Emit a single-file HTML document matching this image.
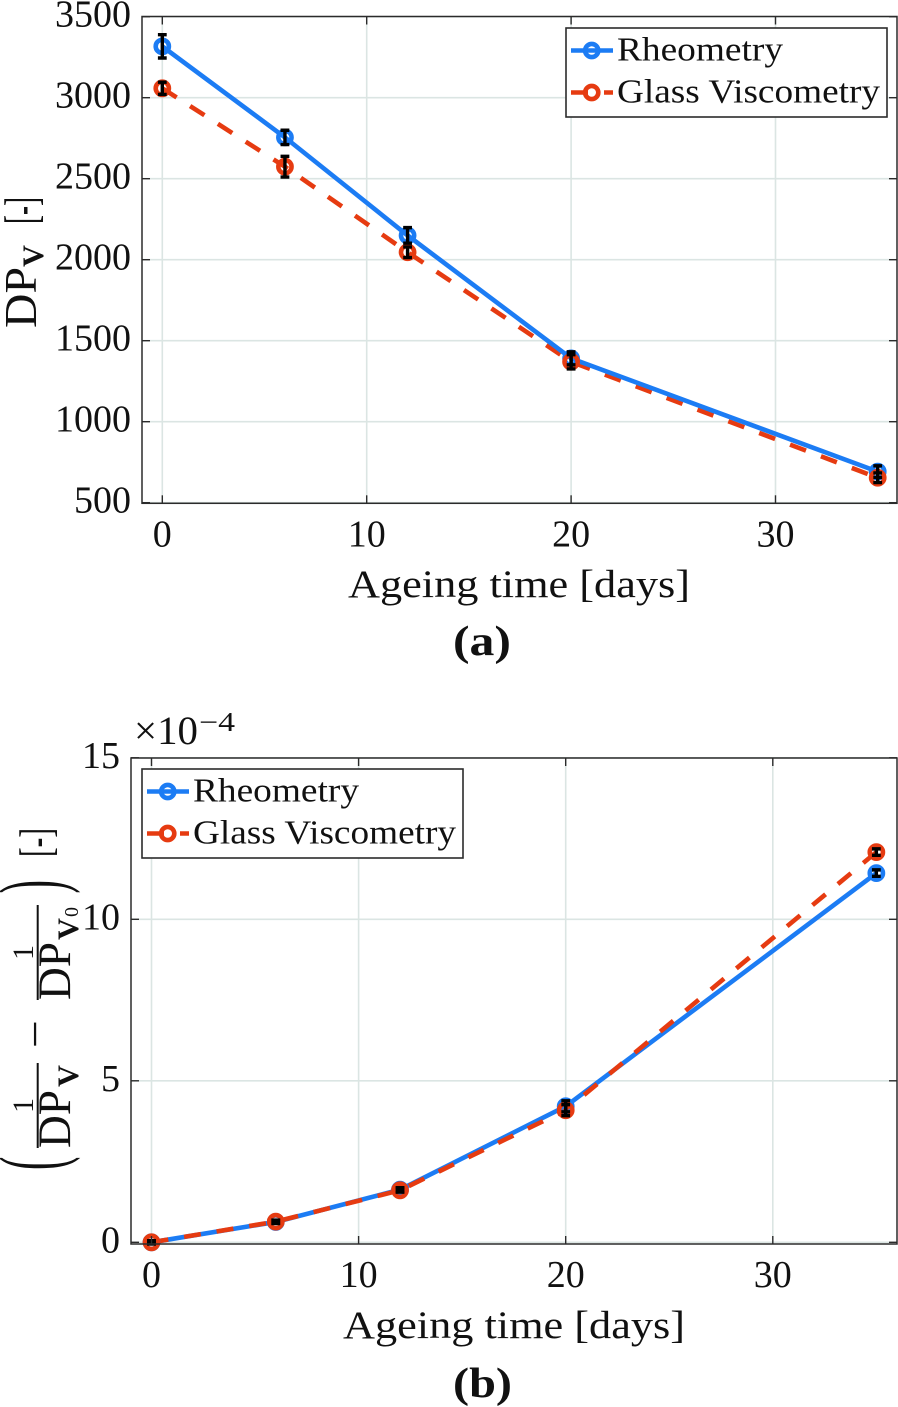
<!DOCTYPE html>
<html lang="en">
<head>
<meta charset="utf-8">
<title>Ageing time charts</title>
<style>
html,body{margin:0;padding:0;background:#fff;}
svg{display:block;}
text{font-family:"Liberation Serif","DejaVu Serif",serif;fill:#111;}
.tick{font-size:38px;}
.xl{font-size:39px;}
.leg{font-size:34px;}
.cap{font-size:42px;font-weight:bold;}
</style>
</head>
<body>
<svg id="figure" xmlns="http://www.w3.org/2000/svg" width="898" height="1407" viewBox="0 0 898 1407">
  <rect width="898" height="1407" fill="#fff"/>
  <g id="chartA"></g>
  <g id="chartB"></g>

  <text class="xl" x="348" y="597" textLength="342" lengthAdjust="spacingAndGlyphs">Ageing time [days]</text>
  <text class="cap" x="453" y="655" textLength="58" lengthAdjust="spacingAndGlyphs">(a)</text>
  <text class="xl" x="343" y="1338" textLength="342" lengthAdjust="spacingAndGlyphs">Ageing time [days]</text>
  <text class="cap" x="453" y="1397" textLength="59" lengthAdjust="spacingAndGlyphs">(b)</text>

  <g>
    <text transform="translate(36,328) rotate(-90)" font-size="45" textLength="61" lengthAdjust="spacingAndGlyphs">DP</text>
    <text transform="translate(43,267) rotate(-90)" font-size="30" font-weight="bold" textLength="22" lengthAdjust="spacingAndGlyphs">V</text>
    <text transform="translate(37,224) rotate(-90)" font-size="47" textLength="27" lengthAdjust="spacingAndGlyphs">[-]</text>
  </g>

  <g>
    <text transform="translate(61,1170) rotate(-90) scale(0.45,1)" font-size="90">(</text>
    <text transform="translate(33,1113) rotate(-90)" font-size="30">1</text>
    <line x1="37.7" y1="1148" x2="37.7" y2="1063" stroke="#111" stroke-width="2"/>
    <text transform="translate(70,1148) rotate(-90)" font-size="47" textLength="58" lengthAdjust="spacingAndGlyphs">DP</text>
    <text transform="translate(78,1087) rotate(-90)" font-size="30" font-weight="bold" textLength="22" lengthAdjust="spacingAndGlyphs">V</text>
    <text transform="translate(50,1048) rotate(-90)" font-size="45" textLength="28" lengthAdjust="spacingAndGlyphs">−</text>
    <text transform="translate(33,960) rotate(-90)" font-size="30">1</text>
    <line x1="37.7" y1="1000" x2="37.7" y2="905" stroke="#111" stroke-width="2"/>
    <text transform="translate(70,1000) rotate(-90)" font-size="47" textLength="58" lengthAdjust="spacingAndGlyphs">DP</text>
    <text transform="translate(78,940) rotate(-90)" font-size="30" font-weight="bold" textLength="22" lengthAdjust="spacingAndGlyphs">V</text>
    <text transform="translate(78,917) rotate(-90)" font-size="20">0</text>
    <text transform="translate(61,880) rotate(-90) scale(0.45,1)" font-size="90" text-anchor="end">)</text>
    <text transform="translate(51,857) rotate(-90)" font-size="46" textLength="29" lengthAdjust="spacingAndGlyphs">[-]</text>
  </g>

  <g>
    <text x="134" y="744" font-size="40" textLength="64" lengthAdjust="spacingAndGlyphs">×10</text>
    <text x="199" y="731" font-size="27" textLength="36" lengthAdjust="spacingAndGlyphs">−4</text>
  </g>
</svg>
<script>
// Shared values
const days = [0, 6, 12, 20, 35];
const xTickValues = [0, 10, 20, 30];

// Chart (a): viscometric degree of polymerisation
const yTicksA = [500, 1000, 1500, 2000, 2500, 3000, 3500];
const rheometryA = [3317, 2755, 2150, 1391, 692];
const rheometryErrA = [72, 44, 48, 40, 36];
const glassA = [3058, 2574, 2046, 1370, 654];
const glassErrA = [38, 64, 33, 44, 30];

// Chart (b): reciprocal difference, units of 1e-4
const yTicksB = [0, 5, 10, 15];
const rheometryB = [0, 0.63, 1.63, 4.21, 11.43];
const rheometryErrB = [0.05, 0.05, 0.06, 0.17, 0.10];
const glassB = [0, 0.64, 1.61, 4.09, 12.08];
const glassErrB = [0.05, 0.05, 0.06, 0.17, 0.10];

// Legend and series labels
const seriesNames = ['Rheometry', 'Glass Viscometry'];

const BLUE = '#1c7cf4';
const RED = '#e63b11';
const NS = 'http://www.w3.org/2000/svg';

function make(parent, tag, attrs, text) {
  const el = document.createElementNS(NS, tag);
  for (const k in attrs) el.setAttribute(k, attrs[k]);
  if (text !== undefined) el.textContent = text;
  parent.appendChild(el);
  return el;
}

function linePoints(xs, ys, xFn, yFn) {
  return xs.map((v, i) => xFn(v).toFixed(2) + ',' + yFn(ys[i]).toFixed(2)).join(' ');
}

function drawChart(root, box, xFn, yFn, yTicks, series, legendDx, legendDy) {
  // grid
  xTickValues.forEach(v => {
    const g = make(root, 'line', {x1: xFn(v), x2: xFn(v), y1: box.top, y2: box.bottom, stroke: '#dbe5e3', 'stroke-width': 1.6});
    
    
  });
  yTicks.forEach(v => {
    const g = make(root, 'line', {x1: box.left, x2: box.right, y1: yFn(v), y2: yFn(v), stroke: '#dbe5e3', 'stroke-width': 1.6});
    
    
  });

  // lines (order per chart)
  series.forEach(s => {
    const attrs = {points: linePoints(days, s.values, xFn, yFn), fill: 'none', stroke: s.color, 'stroke-width': 4.6};
    if (s.dashed) attrs['stroke-dasharray'] = '17 16';
    const l = make(root, 'polyline', attrs);
    
    
  });

  // markers: rheometry first, glass on top
  series.slice().sort((a, b) => (a.dashed ? 1 : 0) - (b.dashed ? 1 : 0)).forEach(s => {
    days.forEach((d, i) => {
      const c = make(root, 'circle', {cx: xFn(d), cy: yFn(s.values[i]), r: 6.6, fill: 'none', stroke: s.color, 'stroke-width': 4.6});
      
      
    });
  });

  // error bars
  series.forEach(s => {
    days.forEach((d, i) => {
      const x = xFn(d);
      const y1 = yFn(s.values[i] - s.errors[i]);
      const y2 = yFn(s.values[i] + s.errors[i]);
      const e = make(root, 'path', {
        d: 'M' + x + ' ' + y1 + 'V' + y2 + 'M' + (x - 4.4) + ' ' + y1 + 'H' + (x + 4.4) + 'M' + (x - 4.4) + ' ' + y2 + 'H' + (x + 4.4),
        fill: 'none', stroke: '#000', 'stroke-width': 3.4
      });
      
      
    });
  });

  // axes box
  const frame = make(root, 'rect', {x: box.left, y: box.top, width: box.right - box.left, height: box.bottom - box.top, fill: 'none', stroke: '#2b2b2b', 'stroke-width': 1.5});
  
  

  // ticks and labels
  xTickValues.forEach(v => {
    const x = xFn(v);
    const t1 = make(root, 'line', {x1: x, x2: x, y1: box.bottom, y2: box.bottom - 8, stroke: '#2b2b2b', 'stroke-width': 1.4});
    
    
    const t2 = make(root, 'line', {x1: x, x2: x, y1: box.top, y2: box.top + 8, stroke: '#2b2b2b', 'stroke-width': 1.4});
    
    
    const lab = make(root, 'text', {x: x, y: box.bottom + 43, 'text-anchor': 'middle', class: 'tick'}, String(v));
    
    
  });
  yTicks.forEach(v => {
    const y = yFn(v);
    const t1 = make(root, 'line', {x1: box.left, x2: box.left + 8, y1: y, y2: y, stroke: '#2b2b2b', 'stroke-width': 1.4});
    
    
    const t2 = make(root, 'line', {x1: box.right, x2: box.right - 8, y1: y, y2: y, stroke: '#2b2b2b', 'stroke-width': 1.4});
    
    
    const lab = make(root, 'text', {x: box.left - 11, y: y + 10, 'text-anchor': 'end', class: 'tick'}, String(v));
    
    
  });

  // legend
  const legend = make(root, 'g', {transform: 'translate(' + legendDx + ',' + legendDy + ')'});
  
  
  const bg = make(legend, 'rect', {x: 566, y: 28, width: 321, height: 89, fill: '#fff', stroke: '#2b2b2b', 'stroke-width': 1.6});
  
  
  seriesNames.forEach((name, i) => {
    const rowY = i === 0 ? 50.5 : 92.5;
    const color = i === 0 ? BLUE : RED;
    const attrs = {x1: 571, x2: 613, y1: rowY, y2: rowY, stroke: color, 'stroke-width': 4.6};
    if (i === 1) attrs['stroke-dasharray'] = '17 16';
    const sw = make(legend, 'line', attrs);
    
    
    const mk = make(legend, 'circle', {cx: 591.7, cy: rowY, r: 6.6, fill: 'none', stroke: color, 'stroke-width': 4.6});
    
    
    const lab = make(legend, 'text', {x: 617, y: rowY + 10, class: 'leg', textLength: i === 0 ? 166 : 263, lengthAdjust: 'spacingAndGlyphs'}, name);
    
    
  });
}

// Axis functions
const xA = v => 162.3 + 20.44 * v;
const yA = v => 502.7 - (v - 500) * 0.162;
const xB = v => 151.5 + 20.71 * v;
const yB = v => 1242.3 - v * 32.3;

drawChart(document.getElementById('chartA'),
  {left: 142, right: 897, top: 16.5, bottom: 503.3}, xA, yA, yTicksA,
  [
    {values: glassA, errors: glassErrA, color: RED, dashed: true},
    {values: rheometryA, errors: rheometryErrA, color: BLUE, dashed: false}
  ], 0, 0);

drawChart(document.getElementById('chartB'),
  {left: 131, right: 897, top: 758, bottom: 1244}, xB, yB, yTicksB,
  [
    {values: rheometryB, errors: rheometryErrB, color: BLUE, dashed: false},
    {values: glassB, errors: glassErrB, color: RED, dashed: true}
  ], -424, 741);
</script>
</body>
</html>
